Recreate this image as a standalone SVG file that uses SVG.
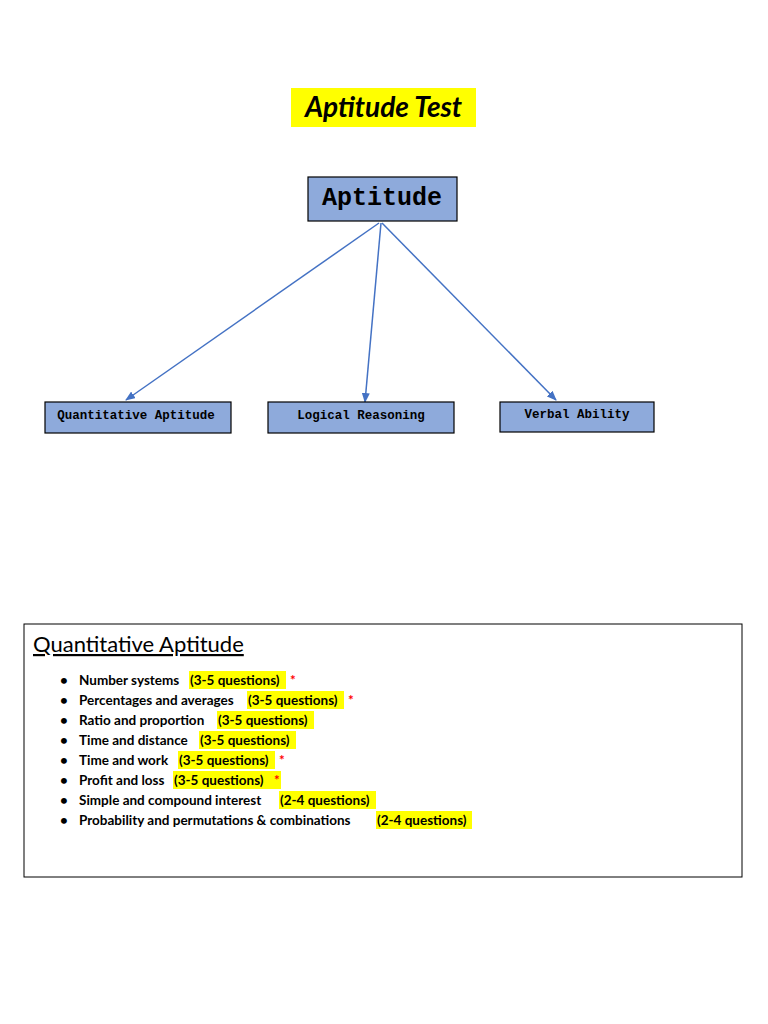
<svg xmlns="http://www.w3.org/2000/svg" width="768" height="1024" viewBox="0 0 768 1024">
<style>
.box{fill:#8eaadb;stroke:#000;stroke-width:1.2}
.mono{font-family:"Liberation Mono","DejaVu Sans Mono",monospace;font-weight:bold;fill:#000}
.sm{font-size:12.5px}
.it{font-family:Lato,"Open Sans",sans-serif;font-size:13.5px;font-weight:bold;fill:#000}
.hl{fill:#ffff00}
.st{fill:#ff0000}
.conn line{stroke:#4472c4;stroke-width:1.5;marker-end:url(#ah)}
</style>
<defs><marker id="ah" markerWidth="10" markerHeight="8" refX="9" refY="4" orient="auto" markerUnits="userSpaceOnUse"><path d="M0,0 L10,4 L0,8 Z" fill="#4472c4"/></marker></defs>
<rect width="768" height="1024" fill="#fff"/>
<g id="title"><rect x="291" y="88" width="185" height="39" class="hl"/><text x="383.5" y="117" text-anchor="middle" font-family="Lato,'Open Sans',sans-serif" font-size="28" font-weight="bold" font-style="italic">Aptitude Test</text></g>
<g class="conn">
<line x1="379" y1="223" x2="126" y2="400"/>
<line x1="381" y1="223" x2="365" y2="402"/>
<line x1="382" y1="223" x2="556" y2="400"/>
</g>
<g id="aptitude"><rect x="308" y="177" width="149" height="44" class="box"/><text x="382" y="205" text-anchor="middle" class="mono" font-size="25">Aptitude</text></g>
<g id="quant"><rect x="45" y="402" width="186" height="31" class="box"/><text x="136" y="419" text-anchor="middle" class="mono sm">Quantitative Aptitude</text></g>
<g id="logical"><rect x="268" y="402" width="186" height="31" class="box"/><text x="361" y="419" text-anchor="middle" class="mono sm">Logical Reasoning</text></g>
<g id="verbal"><rect x="500" y="402" width="154" height="30" class="box"/><text x="577" y="418" text-anchor="middle" class="mono sm">Verbal Ability</text></g>
<g id="panel">
<rect x="24" y="624" width="718" height="253" fill="#fff" stroke="#000" stroke-width="1"/>
<text x="33" y="652" font-family="Lato,'Open Sans',sans-serif" font-size="22" text-decoration="underline">Quantitative Aptitude</text>
<g class="hl">
<rect x="189" y="671" width="97" height="18"/>
<rect x="247" y="691" width="97" height="18"/>
<rect x="217" y="711" width="97" height="18"/>
<rect x="199" y="731" width="97" height="18"/>
<rect x="178" y="751" width="97" height="18"/>
<rect x="173" y="771" width="108" height="18"/>
<rect x="279" y="791" width="97" height="18"/>
<rect x="376" y="811" width="96" height="18"/>
</g>
<g class="it">
<text x="60" y="685">•</text><text x="79" y="685">Number systems</text><text x="190" y="685">(3-5 questions)</text><text x="290" y="685" class="st">*</text>
<text x="60" y="705">•</text><text x="79" y="705">Percentages and averages</text><text x="248" y="705">(3-5 questions)</text><text x="348" y="705" class="st">*</text>
<text x="60" y="725">•</text><text x="79" y="725">Ratio and proportion</text><text x="218" y="725">(3-5 questions)</text>
<text x="60" y="745">•</text><text x="79" y="745">Time and distance</text><text x="200" y="745">(3-5 questions)</text>
<text x="60" y="765">•</text><text x="79" y="765">Time and work</text><text x="179" y="765">(3-5 questions)</text><text x="279" y="765" class="st">*</text>
<text x="60" y="785">•</text><text x="79" y="785">Profit and loss</text><text x="174" y="785">(3-5 questions)</text><text x="274" y="785" class="st">*</text>
<text x="60" y="805">•</text><text x="79" y="805">Simple and compound interest</text><text x="280" y="805">(2-4 questions)</text>
<text x="60" y="825">•</text><text x="79" y="825">Probability and permutations &amp; combinations</text><text x="377" y="825">(2-4 questions)</text>
</g>
</g>
</svg>
